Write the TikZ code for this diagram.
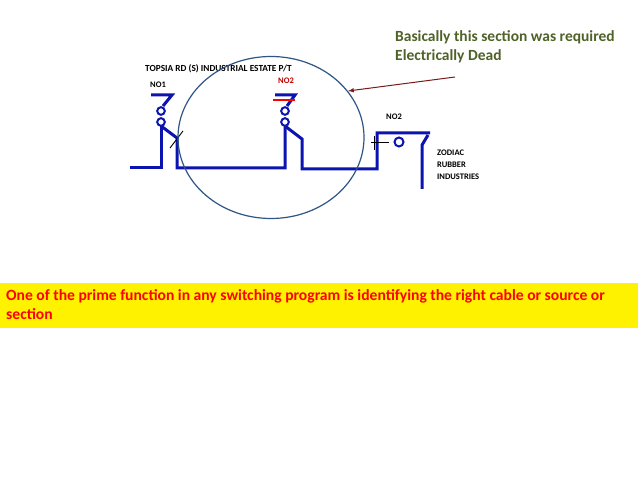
\documentclass[tikz,border=0pt]{standalone}
\usepackage{fontspec}
\setmainfont{Carlito}
\begin{document}
\begin{tikzpicture}[x=1pt,y=-1pt,
 wire/.style={draw=swblue,line width=3pt,line join=miter},
 lbl/.style={font=\bfseries\fontsize{8.5}{12}\selectfont,anchor=west,inner sep=0},
 ring/.style={draw=swblue,line width=2pt,fill=white}]
\definecolor{swblue}{HTML}{0C14B0}
\definecolor{ellc}{HTML}{2E5584}
\definecolor{olive}{HTML}{4F6228}
\definecolor{arrc}{HTML}{7A1A1A}
\useasboundingbox (0,0) rectangle (638,478);
\fill[white] (0,0) rectangle (638,478);
% yellow band
\fill[yellow] (0,283) rectangle (638,328);
\node[anchor=north west,align=left,inner sep=0,text=red,font=\bfseries\fontsize{15.6}{19}\selectfont] (note) at (6,289) {One of the prime function in any switching program is identifying the right cable or source or\\section};
% headline
\node[anchor=west,inner sep=0,text=olive,font=\bfseries\fontsize{15.5}{19}\selectfont,align=left] (head) at (395,47) {Basically this section was required\\Electrically Dead};
\node[lbl,font=\bfseries\fontsize{9.3}{12}\selectfont] (title) at (145,69) {TOPSIA RD (S) INDUSTRIAL ESTATE P/T};
\node[lbl] (no1) at (150,85) {NO1};
\node[lbl,text=red!75!black] (no2a) at (278,81) {NO2};
\node[lbl] (no2b) at (386,117) {NO2};
\node[lbl,align=left,anchor=north west] (zod) at (437,150) {ZODIAC\\RUBBER\\INDUSTRIES};
% coordinates
\coordinate (a0) at (130,168);
\coordinate (a1) at (161,168);
\coordinate (a2) at (161,126);
\coordinate (a3) at (177,138);
\coordinate (a4) at (177,168);
\coordinate (b1) at (285,168);
\coordinate (b2) at (285,126);
\coordinate (b3) at (302,139);
\coordinate (b4) at (302,169);
\coordinate (c1) at (377,169);
\coordinate (c2) at (377,133);
\coordinate (c3) at (430,133);
% main wires
\draw[wire] (a0) -- (a1) -- (a2);
\draw[wire] (a2) -- (a3) -- (a4) -- (b1) -- (b2);
\draw[wire] (b2) -- (b3) -- (b4) -- (c1) -- (c2) -- (c3);
% switch NO1
\draw[wire] (151,95) -- (172,95) -- (163,106);
\draw[ring] (161,111) circle (3.8);
\draw[ring] (161,122) circle (3.8);
\draw[black,line width=0.9pt] (170,148) -- (183,131);
% switch NO2
\draw[wire] (275,95) -- (295,95) -- (287,106);
\draw[red,line width=1.2pt] (273,100) -- (295,100);
\draw[ring] (285,111) circle (3.8);
\draw[ring] (285,122) circle (3.8);
% switch NO2 right
\draw[black,line width=1pt] (371,143) -- (389,143);
\draw[black,line width=1pt] (374,136) -- (374,150);
\draw[ring] (399,142) circle (4.5);
\draw[wire] (422,189) -- (422,145) -- (428,135);
% ellipse
\draw[ellc,line width=1.2pt] (271,137.5) ellipse [x radius=93, y radius=81];
% arrow
\coordinate (tail) at (455,77);
\coordinate (tip) at (348,91);
\draw[arrc,line width=1pt,-latex] (tail) -- (tip);
\end{tikzpicture}
\end{document}
